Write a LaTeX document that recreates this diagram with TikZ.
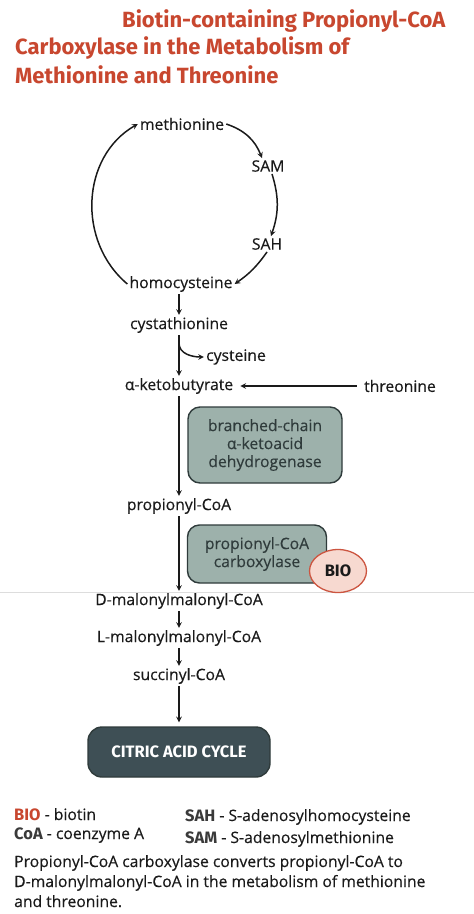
\documentclass[tikz,border=0pt]{standalone}
\usepackage{fontspec}
\setmainfont[FakeBold=0.35]{Open Sans}
\newfontfamily\headfont{Fira Sans}
\usetikzlibrary{shapes.geometric,arrows,positioning,calc}
\definecolor{titlered}{HTML}{C8472F}
\definecolor{enzfill}{HTML}{9DB1AB}
\definecolor{enzline}{HTML}{2F3B3B}
\definecolor{cyclefill}{HTML}{3E4F55}
\definecolor{biofill}{HTML}{F7D9D0}
\definecolor{bioline}{HTML}{CC5540}
\definecolor{inktext}{HTML}{1A1A1A}
\definecolor{keygray}{HTML}{3A3A3A}
\definecolor{rulegray}{HTML}{DDDDDD}
\newcommand\bodysize{\fontsize{15.7}{18}\selectfont}
\newcommand\keysize{\headfont\bfseries\fontsize{16.5}{20}\selectfont}
\tikzstyle{metab} = [inner sep=2pt, font=\bodysize, text=inktext]
\tikzstyle{enzyme} = [rectangle, rounded corners=12pt, draw=enzline, line width=1.4pt, fill=enzfill, align=center, text=enzline, font=\bodysize]
\tikzstyle{cyclebox} = [rectangle, rounded corners=14pt, draw=enzline, line width=1.4pt, fill=cyclefill, text=white, font=\keysize]
\tikzstyle{note} = [anchor=base west, inner sep=0pt, font=\bodysize, text=inktext]
\tikzstyle{arrow} = [line width=1.5pt,->,>=stealth, draw=inktext]

\begin{document}
\begin{tikzpicture}[x=1pt,y=1pt]
  \useasboundingbox[fill=white] (0,0) rectangle (474,-914);

  % title
  \node[anchor=base west, inner sep=0pt, text=titlered, font={\headfont\bfseries\fontsize{22}{24}\selectfont}] (title1) at (122,-27) {Biotin-containing Propionyl-CoA};
  \node[anchor=base west, inner sep=0pt, text=titlered, font={\headfont\bfseries\fontsize{22}{24}\selectfont}] (title2) at (15,-54) {Carboxylase in the Metabolism of};
  \node[anchor=base west, inner sep=0pt, text=titlered, font={\headfont\bfseries\fontsize{22}{24}\selectfont}] (title3) at (15,-83) {Methionine and Threonine};

  % faint rule across the page
  \draw[rulegray, line width=0.6pt] (0,-592) -- (474,-592);

  % methionine cycle
  \node[metab] (meth) at (182,-124) {methionine};
  \node[metab] (sam) at (268,-166) {SAM};
  \node[metab] (sah) at (267,-244) {SAH};
  \node[metab] (homo) at (181,-284) {homocysteine};

  \draw[arrow] (meth.east) to[bend left=25] ([xshift=-6pt]sam.north);
  \draw[arrow] ([xshift=4pt]sam.south) to[bend left=18] ([xshift=4pt]sah.north);
  \draw[arrow] (sah.south) to[bend left=10] (homo.east);
  \draw[arrow] (homo.west) to[out=140, in=210, looseness=1.05] (meth.west);

  % main pathway
  \node[metab] (cysta) at (179,-325) {cystathionine};
  \node[metab] (cyste) at (236,-357) {cysteine};
  \node[metab] (keto) at (179,-386) {α-ketobutyrate};
  \node[metab] (threo) at (400,-386) {threonine};
  \node[enzyme, minimum width=154pt, minimum height=76pt] (bcdh) at (265,-445) {branched-chain\\α-ketoacid\\dehydrogenase};
  \node[metab] (prop) at (179,-506) {propionyl-CoA};
  \node[enzyme, minimum width=139pt, minimum height=58pt] (pcc) at (257,-554) {propionyl-CoA\\carboxylase};
  \node[ellipse, draw=bioline, line width=1.3pt, fill=biofill, minimum width=57pt, minimum height=43pt, text=inktext, font=\keysize] (bio) at (338,-571) {BIO};
  \node[metab] (dmal) at (179,-601) {D-malonylmalonyl-CoA};
  \node[metab] (lmal) at (179,-638) {L-malonylmalonyl-CoA};
  \node[metab] (succ) at (179,-676) {succinyl-CoA};
  \node[cyclebox, minimum width=182pt, minimum height=50pt] (tca) at (179,-752) {CITRIC ACID CYCLE};

  \draw[arrow] (cysta.north |- homo.south) -- (cysta.north);
  \draw[arrow] (cysta) -- (keto);
  \coordinate (split) at ($(cysta.south)+(0,-8)$);
  \draw[arrow] (split) to[out=-90, in=180] (cyste.west);
  \draw[arrow, shorten >=5pt, shorten <=5pt] (threo) -- (keto);
  \draw[arrow] (keto) -- (prop);
  \draw[arrow] (prop) -- (dmal);
  \draw[arrow] (dmal) -- (lmal);
  \draw[arrow] (lmal) -- (succ);
  \draw[arrow, shorten >=4pt] (succ) -- (tca);

  % legend
  \node[note] (kbio) at (14,-820) {{\keysize\color{titlered}BIO} - biotin};
  \node[note] (kcoa) at (14,-839) {{\keysize\color{keygray}CoA} - coenzyme A};
  \node[note] (ksah) at (185,-821) {{\keysize\color{keygray}SAH} - S-adenosylhomocysteine};
  \node[note] (ksam) at (185,-843) {{\keysize\color{keygray}SAM} - S-adenosylmethionine};

  % caption
  \node[note] (para1) at (14,-867) {Propionyl-CoA carboxylase converts propionyl-CoA to};
  \node[note] (para2) at (14,-887) {D-malonylmalonyl-CoA in the metabolism of methionine};
  \node[note] (para3) at (14,-907) {and threonine.};
\end{tikzpicture}
\end{document}
